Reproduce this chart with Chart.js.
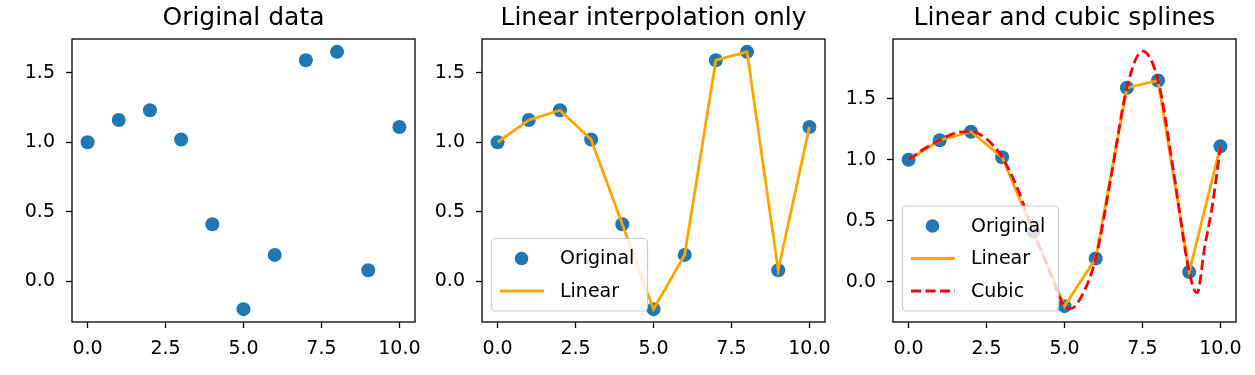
<!DOCTYPE html>
<html lang="en">
<head>
  <meta charset="UTF-8" />
  <title>Linear and cubic splines</title>
  <script src="https://cdn.jsdelivr.net/npm/chart.js"></script>
  <style>
    body {
      margin: 0;
      background: #fff;
      width: 1255px;
      height: 375px;
      overflow: hidden;
      position: relative;
    }
    canvas { position: absolute; top: 0; }
  </style>
</head>
<body>
  <canvas id="c1" width="445" height="375" style="left:0px"></canvas>
  <canvas id="c2" width="445" height="375" style="left:410px"></canvas>
  <canvas id="c3" width="434" height="375" style="left:821px"></canvas>
  <script>
    // sample points
    const xData = [0, 1, 2, 3, 4, 5, 6, 7, 8, 9, 10];
    const yData = [1.00, 1.16, 1.23, 1.02, 0.41, -0.20, 0.19, 1.59, 1.65, 0.08, 1.11];

    // cubic spline
    const cubicX = [0, 0.5, 1, 1.5, 2, 2.5, 3, 3.5, 4, 4.5, 5, 5.2, 5.5, 6, 6.5, 7, 7.5, 8, 8.5, 9, 9.25, 9.5, 9.75, 10];
    const cubicY = [1.00, 1.09, 1.16, 1.22, 1.23, 1.17, 1.02, 0.76, 0.41, 0.10, -0.20, -0.22, -0.14, 0.19, 0.87, 1.59, 1.89, 1.65, 0.90, 0.08, -0.09, 0.29, 0.64, 1.11];

    const xTicks = [0, 2.5, 5, 7.5, 10];
    const yTicks = [0, 0.5, 1.0, 1.5];
    const titles = ['Original data', 'Linear interpolation only', 'Linear and cubic splines'];

    const FONT = 'DejaVu Sans';
    const BLUE = '#1f77b4', ORANGE = '#ffa500', RED = '#ff0000';

    const pts = (xs, ys) => xs.map((x, i) => ({ x: x, y: ys[i] }));

    const originalSet = () => ({
      label: 'Original', data: pts(xData, yData), showLine: false,
      pointRadius: 7, pointBackgroundColor: BLUE, pointBorderWidth: 0, order: 3
    });
    const linearSet = () => ({
      label: 'Linear', data: pts(xData, yData), showLine: true,
      borderColor: ORANGE, borderWidth: 2.8, pointRadius: 0, order: 2
    });
    const cubicSet = () => ({
      label: 'Cubic', data: pts(cubicX, cubicY), showLine: true,
      borderColor: RED, borderWidth: 2.8, borderDash: [10, 4.5], pointRadius: 0,
      cubicInterpolationMode: 'monotone', order: 1
    });

    // spines all round + matplotlib style legend in the lower left
    const framePlugin = {
      id: 'frame',
      afterDraw(chart, args, opts) {
        const { ctx, chartArea: a } = chart;
        ctx.save();
        ctx.strokeStyle = '#000';
        ctx.lineWidth = 1.3;
        ctx.strokeRect(a.left, a.top, a.right - a.left, a.bottom - a.top);

        if (opts.legend) {
          const sets = chart.data.datasets;
          const rowH = 32.5;
          const h = 40 + (sets.length - 1) * rowH;
          const w = 156;
          const bx = a.left + 9.5;
          const by = a.bottom - 11 - h;
          ctx.beginPath();
          ctx.roundRect(bx, by, w, h, 4);
          ctx.fillStyle = 'rgba(255,255,255,0.8)';
          ctx.fill();
          ctx.strokeStyle = '#cccccc';
          ctx.lineWidth = 1.2;
          ctx.stroke();

          ctx.font = '19px "' + FONT + '"';
          ctx.textBaseline = 'middle';
          ctx.textAlign = 'left';
          sets.forEach((ds, i) => {
            const cy = by + 20 + i * rowH;
            if (ds.showLine) {
              ctx.beginPath();
              ctx.setLineDash(ds.borderDash || []);
              ctx.strokeStyle = ds.borderColor;
              ctx.lineWidth = ds.borderWidth;
              ctx.moveTo(bx + 8.5, cy);
              ctx.lineTo(bx + 52.5, cy);
              ctx.stroke();
              ctx.setLineDash([]);
            } else {
              ctx.beginPath();
              ctx.arc(bx + 30, cy, 6.8, 0, Math.PI * 2);
              ctx.fillStyle = ds.pointBackgroundColor;
              ctx.fill();
            }
            ctx.fillStyle = '#000';
            ctx.fillText(ds.label, bx + 68.5, cy + 1);
          });
        }
        ctx.restore();
      }
    };

    function makeChart(id, title, datasets, yMin, yMax, padRight, legend) {
      const tickFont = { family: FONT, size: 19 };
      return new Chart(document.getElementById(id), {
        type: 'scatter',
        data: { datasets: datasets },
        options: {
          responsive: false,
          animation: false,
          devicePixelRatio: 1,
          layout: { padding: { left: 0, right: padRight, top: 0, bottom: 0 } },
          plugins: {
            legend: { display: false },
            tooltip: { enabled: false },
            title: {
              display: true, text: title, fullSize: false, color: '#000',
              font: { family: FONT, size: 25, weight: 'normal', lineHeight: 1.2 },
              padding: { top: 3, bottom: 6 }
            },
            frame: { legend: legend }
          },
          scales: {
            x: {
              type: 'linear', min: -0.5, max: 10.5,
              afterBuildTicks: s => { s.ticks = xTicks.map(v => ({ value: v })); },
              afterFit: s => { s.height = 53; },
              grid: { drawOnChartArea: false, tickLength: 6, tickWidth: 1.3, tickColor: '#000' },
              border: { display: false },
              ticks: { font: tickFont, color: '#000', padding: 10, maxRotation: 0, autoSkip: false,
                       callback: v => v.toFixed(1) }
            },
            y: {
              type: 'linear', min: yMin, max: yMax,
              afterBuildTicks: s => { s.ticks = yTicks.map(v => ({ value: v })); },
              afterFit: s => { s.width = 72; },
              grid: { drawOnChartArea: false, tickLength: 6, tickWidth: 1.3, tickColor: '#000' },
              border: { display: false },
              ticks: { font: tickFont, color: '#000', padding: 11, autoSkip: false,
                       callback: v => v.toFixed(1) }
            }
          }
        },
        plugins: [framePlugin]
      });
    }

    makeChart('c1', titles[0], [originalSet()], -0.2925, 1.7425, 30, false);
    makeChart('c2', titles[1], [originalSet(), linearSet()], -0.2925, 1.7425, 30, true);
    makeChart('c3', titles[2], [originalSet(), linearSet(), cubicSet()], -0.33, 1.99, 19, true);
  </script>
</body>
</html>
